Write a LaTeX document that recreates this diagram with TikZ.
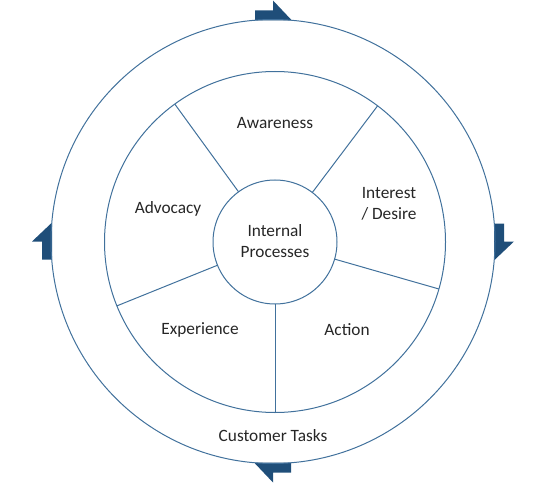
\documentclass[tikz,border=0pt]{standalone}
\usepackage{fontspec}
\setmainfont{Carlito}
\definecolor{ringline}{HTML}{41719C}
\definecolor{arrowfill}{HTML}{1F4E79}
\begin{document}
\begin{tikzpicture}[x=1pt,y=1pt,
  ring/.style={circle,draw=ringline,line width=1pt,inner sep=0pt,outer sep=0pt},
  spoke/.style={draw=ringline,line width=1pt},
  lbl/.style={font=\fontsize{17.3}{21}\selectfont,text=black!85,align=center,inner sep=0pt},
  cwarrow/.style={fill=arrowfill,draw=none}]
\useasboundingbox (0,0) rectangle (543,488);
\coordinate (C) at (275,246);
\coordinate (CO) at (273,246.5);
% arrows first (ring drawn over them)
\node[ring,draw=none,minimum size=444pt] (outerref) at (CO) {};
\foreach \ang in {90,0,270,180}{
  \begin{scope}[shift={(outerref.\ang)},rotate=\ang-90]
    \path[cwarrow] (-18,-1) -- (-18,9) -- (0,9) -- (0,19) -- (18,0) -- (18,-1) -- cycle;
  \end{scope}
}
\node[ring,minimum size=444pt] (outer) at (CO) {};
\node[ring,minimum size=341pt] (wheel) at (C) {};
\node[ring,minimum size=124pt] (core) at (C) {};
\foreach \ang in {270,344,53.5,126.5,202}{
  \draw[spoke] (core.\ang) -- (wheel.\ang);
}
\node[lbl] (awareness) at (275,365) {Awareness};
\node[lbl] (interest) at (389,284) {Interest\\/ Desire};
\node[lbl] (action) at (347,158) {Action};
\node[lbl] (experience) at (200,158) {Experience};
\node[lbl] (advocacy) at (168,279) {Advocacy};
\node[lbl] (internal) at (275,247) {Internal\\Processes};
\node[lbl] (tasks) at (273,52) {Customer Tasks};
\end{tikzpicture}
\end{document}
